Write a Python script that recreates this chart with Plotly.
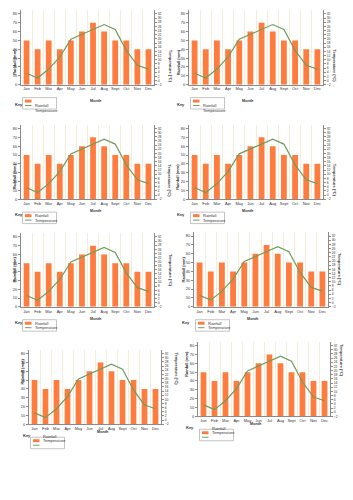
import plotly.graph_objects as go

months = ["Jan", "Feb", "Mar", "Apr", "May", "Jun", "Jul", "Aug", "Sept", "Oct", "Nov", "Dec"]
rainfall = [50, 40, 50, 40, 50, 60, 70, 60, 50, 50, 40, 40]
temperature = [3.5, 1.2, 5.5, 11.3, 19.8, 22.2, 24.8, 26.9, 24.5, 14.5, 7.3, 5.5]
rain_ticks = [0, 10, 20, 30, 40, 50, 60, 70, 80]
temp_ticks = list(range(-2, 33, 2))

W, H = 353, 500
# panel plot areas in pixels: left, right, top, bottom
panels = [
    (21, 154, 10, 85), (189, 323, 10, 85),
    (21, 154, 125, 200), (189, 323, 125, 200),
    (21, 154, 234, 308), (194, 328, 233, 308),
    (29, 161, 351, 426), (198, 330, 343, 418),
]

BAR = "#ff7c3f"
LINE = "#6e9c5f"
GRID = "#f1edd6"
AX = "#8a8a8a"
FONT = "Liberation Sans"

def px(x):
    return x / W

def py(y):
    return 1 - y / H

fig = go.Figure()
layout = dict(width=W, height=H, margin=dict(l=0, r=0, t=0, b=0),
              paper_bgcolor="white", plot_bgcolor="white", showlegend=False,
              font=dict(family=FONT, size=4, color="#333"))
shapes = []
annotations = []

L_MAX = 84.5
def to_right(v):
    return -2 + v * 34 / 80

for i, (l, r, t, b) in enumerate(panels):
    n = i + 1
    xa = "x" if n == 1 else f"x{n}"
    yl_n = 2 * n - 1
    yr_n = 2 * n
    yl = "y" if yl_n == 1 else f"y{yl_n}"
    yr = f"y{yr_n}"
    fig.add_trace(go.Bar(x=months, y=rainfall, marker=dict(color=BAR, line=dict(width=0)),
                         width=0.52, xaxis=xa, yaxis=yl, name="Rainfall"))
    fig.add_trace(go.Scatter(x=months, y=temperature, mode="lines",
                             line=dict(color=LINE, width=1.2), xaxis=xa, yaxis=yr,
                             name="Temperature"))
    xkey = "xaxis" if n == 1 else f"xaxis{n}"
    ylkey = "yaxis" if yl_n == 1 else f"yaxis{yl_n}"
    yrkey = f"yaxis{yr_n}"
    dom_x = [px(l), px(r)]
    dom_y = [py(b), py(t)]
    layout[xkey] = dict(domain=dom_x, anchor=yl, type="category", tickson="boundaries",
                        showgrid=True, gridcolor=GRID, gridwidth=1, showline=True,
                        linecolor=AX, linewidth=1, ticks="", tickangle=0,
                        tickfont=dict(size=4, color="#333"), fixedrange=True)
    layout[ylkey] = dict(domain=dom_y, anchor=xa, range=[0, L_MAX], tickvals=rain_ticks,
                         showgrid=False, showline=True, linecolor=AX, linewidth=1,
                         ticks="outside", ticklen=2, tickcolor=AX, zeroline=False, tickangle=0,
                         tickfont=dict(size=4, color="#333"))
    layout[yrkey] = dict(overlaying=yl, anchor=xa, side="right",
                         range=[to_right(0), to_right(L_MAX)], tickvals=temp_ticks,
                         showgrid=False, showline=True, linecolor=AX, linewidth=1,
                         ticks="outside", ticklen=2, tickcolor=AX, zeroline=False, tickangle=0,
                         tickfont=dict(size=3.4, color="#333"))
    cx = (l + r) / 2
    cy = (t + b) / 2
    annotations += [
        dict(text="<b>Month</b>", x=px(cx), y=py(b + 12), xref="paper", yref="paper",
             showarrow=False, font=dict(size=3.8, color="#333")),
        dict(text="<b>Rainfall (mm)</b>", x=px(l - 11), y=py(cy), xref="paper", yref="paper",
             showarrow=False, textangle=-90, font=dict(size=4, color="#333")),
        dict(text="<b>Temperature (°C)</b>", x=px(r + 16), y=py(cy), xref="paper", yref="paper",
             showarrow=False, textangle=90, font=dict(size=4, color="#333")),
        dict(text="<b>Key</b>", x=px(l - 8), y=py(b + 15.5), xref="paper", yref="paper",
             showarrow=False, font=dict(size=4, color="#333")),
        dict(text="Rainfall", x=px(l + 12), y=py(b + 16.5), xref="paper", yref="paper",
             xanchor="left", showarrow=False, font=dict(size=4, color="#333")),
        dict(text="Temperature", x=px(l + 12), y=py(b + 21), xref="paper", yref="paper",
             xanchor="left", showarrow=False, font=dict(size=4, color="#333")),
    ]
    shapes += [
        dict(type="rect", xref="paper", yref="paper", x0=px(l + 1.5), x1=px(l + 35.5),
             y0=py(b + 24.5), y1=py(b + 13), line=dict(color="#b5b5b5", width=0.8),
             fillcolor="white"),
        dict(type="rect", xref="paper", yref="paper", x0=px(l + 4), x1=px(l + 10.5),
             y0=py(b + 18), y1=py(b + 15), line=dict(width=0), fillcolor=BAR),
        dict(type="line", xref="paper", yref="paper", x0=px(l + 4), x1=px(l + 10.5),
             y0=py(b + 21), y1=py(b + 21), line=dict(color=LINE, width=1)),
    ]

layout["shapes"] = shapes
layout["annotations"] = annotations
fig.update_layout(**layout)
fig.write_html("out.html")
